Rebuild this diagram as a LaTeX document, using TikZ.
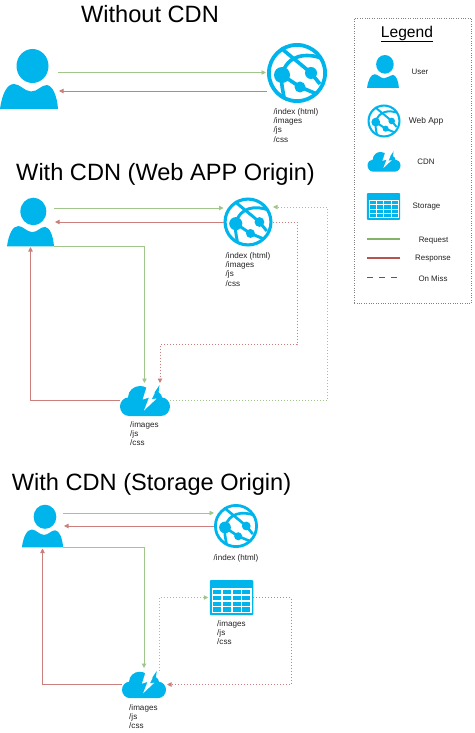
\documentclass[tikz,border=0pt]{standalone}
\usepackage{fontspec}
\setmainfont{Liberation Sans}
\usetikzlibrary{arrows.meta,calc}
\definecolor{iconblue}{HTML}{00B4EC}
\definecolor{reqgreen}{HTML}{82B366}
\definecolor{respred}{HTML}{B85450}
\definecolor{txt}{HTML}{222222}
\tikzset{
  usericon/.pic={\begin{scope}[scale=#1]
    \fill[iconblue] (3.5,-13) ellipse (16 and 17);
    \fill[iconblue] (-29,30) .. controls (-27,15) and (-22,5) .. (-15,5)
      .. controls (-9,5) and (-5,12) .. (2,12.5)
      .. controls (9,12.5) and (12,6) .. (18,6)
      .. controls (24,7) and (28,17) .. (29,30) -- cycle;
  \end{scope}},
  globeicon/.pic={\begin{scope}[scale=#1]
    \draw[iconblue,line width=#1*3.8pt] (0,0) circle (28.1);
    \draw[iconblue,line width=#1*3.6pt] (-16,-25) .. controls (-8,-18) and (6,-7) .. (14,0) -- (23,11);
    \draw[iconblue,line width=#1*3.6pt] (24,-15) .. controls (10,-20) and (-10,-19) .. (-15,2) .. controls (-16,8) and (-15,14) .. (-13,24);
    \draw[iconblue,line width=#1*3.6pt] (-15,2) -- (3,14) -- (20,21);
    \fill[iconblue] (-15,2) circle (8);
    \fill[iconblue] (14,0) circle (6);
    \fill[iconblue] (3,14) circle (5.5);
  \end{scope}},
  cloudicon/.pic={\begin{scope}[scale=#1]
    \fill[iconblue] (-16,15.5) .. controls (-21,15.5) and (-25,11) .. (-25,6)
      .. controls (-25,1) and (-21,-3) .. (-17,-3)
      .. controls (-17,-10) and (-11,-14.5) .. (-5,-14.5)
      .. controls (0,-14.5) and (4,-12) .. (6,-8)
      .. controls (12,-11) and (17,-7) .. (17,-3)
      .. controls (21,-3) and (25,1) .. (25,6)
      .. controls (25,11) and (21,15.5) .. (16,15.5) -- cycle;
    \fill[white] (3,-18) -- (-2.3,-1) -- (4,-3) -- (-1,10) -- (11.7,-2) -- (6.7,-1.3) -- (13,-14) -- cycle;
    \fill[iconblue] (14.5,-15.5) -- (13,-4) -- (9.5,-8) -- cycle;
  \end{scope}},
  storageicon/.pic={\begin{scope}[scale=#1]
    \fill[iconblue,rounded corners=#1*1pt] (-21.75,-17.5) rectangle (21.75,17.5);
    \foreach \yy in {-8.5,-2.5,3.5,9.2,15}
      \draw[white,line width=#1*1.4pt] (-19.7,\yy) -- (20.2,\yy);
    \foreach \xx in {-19,-9.5,0.3,10,19.6}
      \draw[white,line width=#1*1.4pt] (\xx,-8.5) -- (\xx,15);
  \end{scope}},
  anchorbox/.style={inner sep=0pt,outer sep=0pt,minimum width=#1},
  title/.style={font=\fontsize{23.6}{26}\selectfont,text=black,inner sep=0pt},
  paths/.style={font=\fontsize{8.1}{9.4}\selectfont,text=txt,inner sep=0pt,align=left,anchor=north west},
  legtext/.style={font=\fontsize{7.9}{9}\selectfont,text=txt,inner sep=0pt},
  request/.style={reqgreen!75!white,line width=.9pt,-{Triangle[width=4.5pt,length=4.5pt]}},
  response/.style={respred!75!white,line width=.9pt,-{Triangle[width=4.5pt,length=4.5pt]}},
  reqmiss/.style={request,dash pattern=on 1pt off 2pt},
  respmiss/.style={response,dash pattern=on 1pt off 2pt},
}
\begin{document}
\begin{tikzpicture}[x=1pt,y=-1pt]
\useasboundingbox (0,0) rectangle (474,733);
% titles
\node[title] (t1) at (150,14) {Without CDN};
\node[title] (t2) at (165.5,174) {With CDN (Web APP Origin)};
\node[title] (t3) at (151.5,484) {With CDN (Storage Origin)};
% section 1
\node[anchorbox=58pt,minimum height=60pt] (u1) at (29,79) {};
\pic at (u1) {usericon=1};
\node[anchorbox=60pt,minimum height=60pt] (w1) at (297,73) {};
\pic at (w1) {globeicon=1};
\node[paths] (p1) at (273.5,108) {/index (html)\\/images\\/js\\/css};
\draw[request] ([yshift=6.5pt]u1.east) -- ([xshift=-1pt,yshift=.5pt]w1.west);
\draw[response] ([yshift=-18pt]w1.west) -- ([xshift=1pt,yshift=-12pt]u1.east);
% section 2
\node[anchorbox=47pt,minimum height=48pt] (u2) at (30.5,222) {};
\pic at (u2) {usericon=.81};
\node[anchorbox=49pt,minimum height=49pt] (w2) at (248,222) {};
\pic at (w2) {globeicon=.817};
\node[anchorbox=50pt,minimum height=31pt] (c2) at (145,400.5) {};
\pic at (c2) {cloudicon=1};
\node[paths] (p2) at (225.5,252) {/index (html)\\/images\\/js\\/css};
\node[paths] (p3) at (130,421) {/images\\/js\\/css};
\coordinate (g2) at (327,207);
\coordinate (r2) at (297,344.5);
\draw[request] ([yshift=14pt]u2.east) -- ([yshift=14pt]w2.west);
\draw[response] (w2.west) -- ([xshift=1pt]u2.east);
\draw[request] ([yshift=-24pt]u2.east) -| ([xshift=-.5pt,yshift=2pt]c2.north);
\draw[response] (c2.west) -| ([yshift=-1pt]u2.south);
\draw[reqmiss] (c2.east) -| (g2) -- ([xshift=.5pt,yshift=15pt]w2.east);
\draw[respmiss] (w2.east) -| (r2) -| ([xshift=15pt,yshift=2pt]c2.north);
% section 3
\node[anchorbox=41pt,minimum height=43pt] (u3) at (42.5,526) {};
\pic at (u3) {usericon=.71};
\node[anchorbox=44pt,minimum height=44pt] (w3) at (236,526) {};
\pic at (w3) {globeicon=.733};
\node[anchorbox=43.5pt,minimum height=35pt] (s3) at (231.5,597.5) {};
\pic at (s3) {storageicon=1};
\node[anchorbox=44pt,minimum height=29pt] (c3) at (144,684.5) {};
\pic at (c3) {cloudicon=.88};
\node[paths] (p4) at (213.5,554) {/index (html)};
\node[paths] (p5) at (217,620) {/images\\/js\\/css};
\node[paths] (p6) at (129,704) {/images\\/js\\/css};
\coordinate (g3) at (159,671);
\coordinate (r3) at (291,684.5);
\draw[request] ([yshift=13pt]u3.east) -- ([yshift=13pt]w3.west);
\draw[response] (w3.west) -- ([xshift=1pt]u3.east);
\draw[request] ([yshift=-21.5pt]u3.east) -| ([yshift=2pt]c3.north);
\draw[response] (c3.west) -| ([yshift=-1pt]u3.south);
\draw[reqmiss] (g3) |- ([xshift=-1.5pt]s3.west);
\draw[respmiss] (s3.east) -| (r3) -- ([xshift=1pt]c3.east);
% legend
\node[draw=black!50,dash pattern=on .8pt off 1.6pt,line width=.7pt,inner sep=0pt,minimum width=117.5pt,minimum height=285pt] (leg) at (413,160.5) {};
\node[font=\fontsize{15.6}{18}\selectfont,text=black,inner sep=0pt] (legt) at (407,34) {\underline{Legend}};
\node[anchorbox=32pt,minimum height=33pt] (lu) at (383,71.5) {};
\pic at (lu) {usericon=.55};
\node[anchorbox=33pt,minimum height=33pt] (lw) at (384,121) {};
\pic at (lw) {globeicon=.55};
\node[anchorbox=33pt,minimum height=21pt] (lc) at (384,161.5) {};
\pic at (lc) {cloudicon=.66};
\node[anchorbox=33pt,minimum height=26.5pt] (ls) at (383.5,206.5) {};
\pic at (ls) {storageicon=.76};
\node[legtext] (l1) at (420,71.5) {User};
\node[legtext,font=\fontsize{8.4}{10}\selectfont] (l2) at (426,121) {Web App};
\node[legtext] (l3) at (426,161.5) {CDN};
\node[legtext] (l4) at (426.5,207) {Storage};
\node[legtext] (l5) at (433.5,241) {Request};
\node[legtext] (l6) at (433,259) {Response};
\node[legtext] (l7) at (433,278.5) {On Miss};
\coordinate (a1) at (367,239);
\coordinate (b1) at (400,239);
\coordinate (a2) at (367,257.5);
\coordinate (b2) at (400,257.5);
\coordinate (a3) at (367,277.7);
\coordinate (b3) at (400,277.7);
\draw[reqgreen,line width=2pt] (a1) -- (b1);
\draw[respred,line width=2pt] (a2) -- (b2);
\draw[black!65,line width=1pt,dash pattern=on 6pt off 6pt] (a3) -- (b3);
\end{tikzpicture}
\end{document}
